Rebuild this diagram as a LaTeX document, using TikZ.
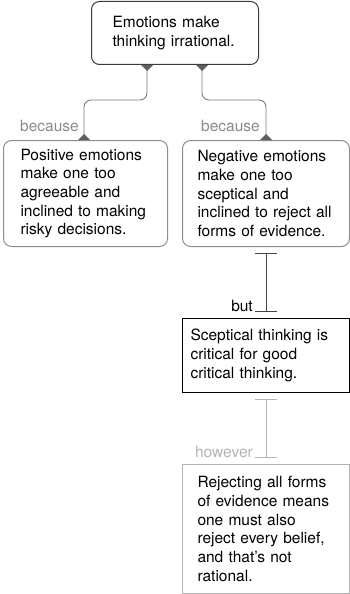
\documentclass[tikz,border=0pt]{standalone}
\usepackage{fontspec}
\setmainfont{TeX Gyre Heros}
\definecolor{conngray}{HTML}{7A7A7A}
\definecolor{trigray}{HTML}{5E5E5E}
\definecolor{lblgray}{HTML}{8A8A8A}
\definecolor{boxgray}{HTML}{8C8C8C}
\definecolor{topgray}{HTML}{3A3A3A}
\definecolor{butgray}{HTML}{454545}
\definecolor{lightgray2}{HTML}{B3B3B3}
\begin{document}
\begin{tikzpicture}[x=1pt,y=-1pt,
  font=\fontsize{15.5}{18.7}\selectfont,
  box/.style={anchor=north west, inner xsep=0pt, inner ysep=0pt, align=left, line width=1pt},
  conn/.style={draw=conngray, line width=0.9pt, rounded corners=7pt},
  tri/.style={fill=trigray},
  lbl/.style={text=lblgray, inner sep=0pt, anchor=base east}
]
\useasboundingbox (0,0) rectangle (350,594);

\node[box, draw=topgray, rounded corners=8pt, minimum width=167pt, minimum height=63pt, text width=125pt] (top) at (91,1)
  {Emotions make\\thinking irrational.};
\node[box, draw=boxgray, rounded corners=8pt, minimum width=164pt, minimum height=106pt, text width=130pt] (lft) at (3,140)
  {Positive emotions\\make one too\\agreeable and\\inclined to making\\risky decisions.};
\node[box, draw=boxgray, rounded corners=8pt, minimum width=167pt, minimum height=106pt, text width=137pt] (rgt) at (182,140)
  {Negative emotions\\make one too\\sceptical and\\inclined to reject all\\forms of evidence.};
\node[box, draw=black, minimum width=167pt, minimum height=74pt, text width=151pt] (scp) at (182,318)
  {Sceptical thinking is\\critical for good\\critical thinking.};
\node[box, draw=lightgray2, minimum width=167pt, minimum height=129pt, text width=137pt] (fin) at (182,464)
  {Rejecting all forms\\of evidence means\\one must also\\reject every belief,\\and that’s not\\rational.};

% connectors from top box
\coordinate (a1) at ([xshift=56pt]top.south west);
\coordinate (a2) at ([xshift=81pt]lft.north west);
\coordinate (c1) at ([xshift=111pt]top.south west);
\coordinate (c2) at ([xshift=84pt]rgt.north west);
\draw[conn] (a1) -- (a1 |- 0,100) -- (a2 |- 0,100) -- (a2);
\draw[conn] (c1) -- (c1 |- 0,100) -- (c2 |- 0,100) -- (c2);
\fill[tri] ([xshift=-6pt]a1) -- ([yshift=-6pt]a1) -- ([xshift=6pt]a1) -- cycle;
\fill[tri] ([xshift=-6pt]c1) -- ([yshift=-6pt]c1) -- ([xshift=6pt]c1) -- cycle;
\fill[tri] ([xshift=-6pt]a2) -- ([yshift=6pt]a2) -- ([xshift=6pt]a2) -- cycle;
\fill[tri] ([xshift=-6pt]c2) -- ([yshift=6pt]c2) -- ([xshift=6pt]c2) -- cycle;

\node[lbl] (b1) at (79,131) {because};
\node[lbl] (b2) at (260,131) {because};

% but connector
\coordinate (u1) at ([xshift=84pt,yshift=-6pt]rgt.south west);
\coordinate (u2) at ([xshift=84pt,yshift=7pt]scp.north west);
\draw[butgray, line width=0.9pt] ([xshift=-11pt]u1) -- ([xshift=11pt]u1);
\draw[butgray, line width=0.9pt] (u1) -- (u2);
\draw[butgray, line width=0.9pt] ([xshift=-11pt]u2) -- ([xshift=11pt]u2);
\node[inner sep=0pt, anchor=base east, text=black] (but) at ([xshift=-13pt]u2) {but};

% however connector
\coordinate (h1) at ([xshift=84pt,yshift=-6pt]scp.south west);
\coordinate (h2) at ([xshift=84pt,yshift=7pt]fin.north west);
\draw[lightgray2, line width=0.9pt] ([xshift=-11pt]h1) -- ([xshift=11pt]h1);
\draw[lightgray2, line width=0.9pt] (h1) -- (h2);
\draw[lightgray2, line width=0.9pt] ([xshift=-11pt]h2) -- ([xshift=11pt]h2);
\node[inner sep=0pt, anchor=base east, text=lightgray2] (hw) at ([xshift=-13pt]h2) {however};
\end{tikzpicture}
\end{document}
